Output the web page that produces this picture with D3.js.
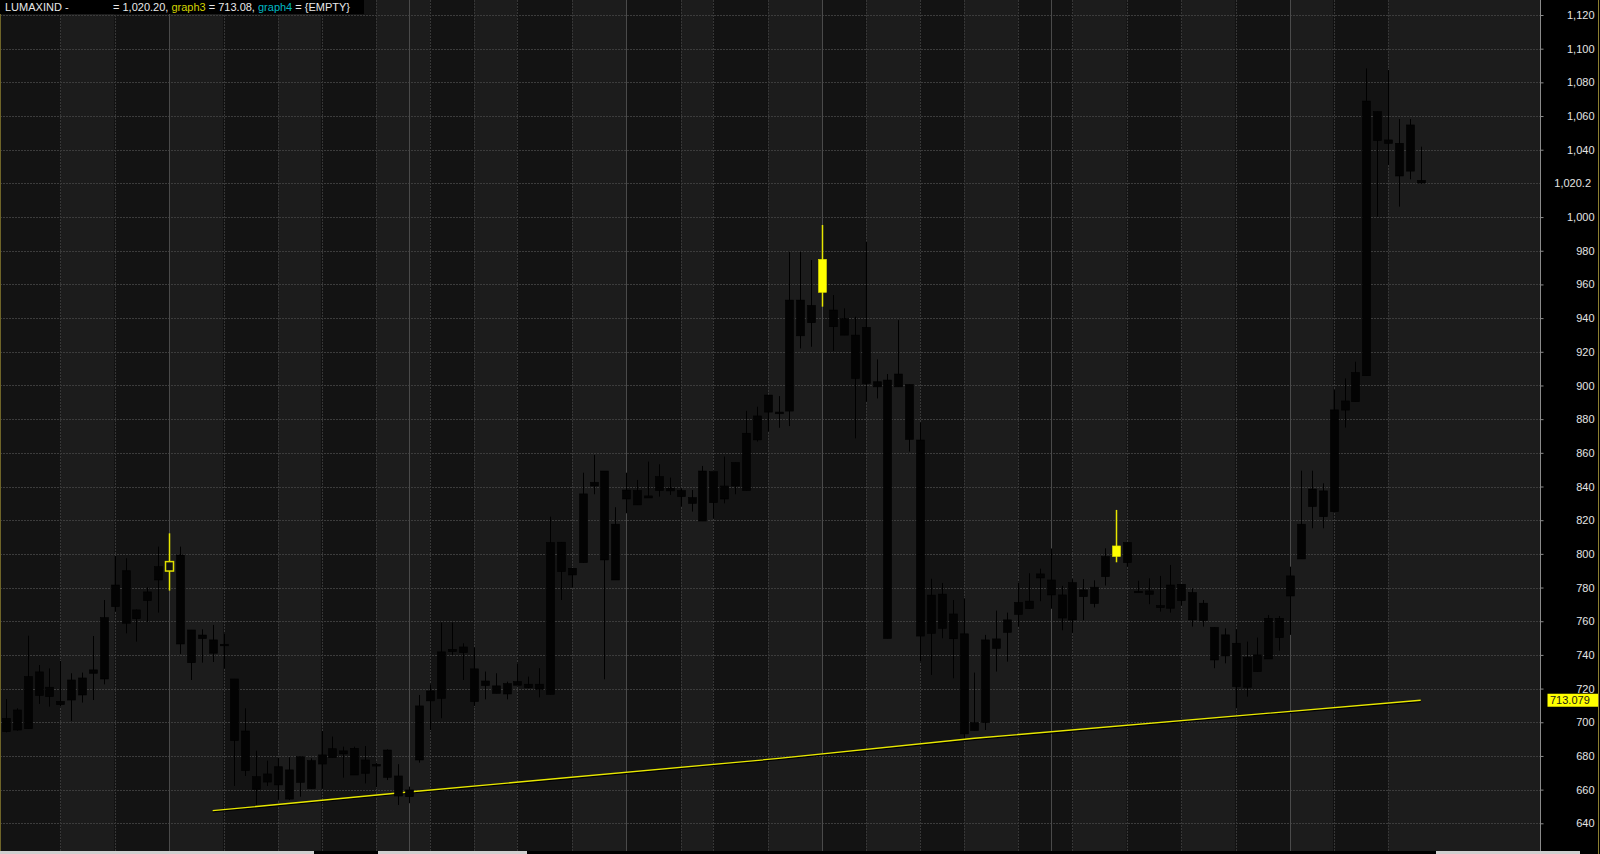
<!DOCTYPE html>
<html><head><meta charset="utf-8">
<script src="https://cdn.jsdelivr.net/npm/d3@7/dist/d3.min.js"></script>
<style>html,body{margin:0;padding:0;background:#000;overflow:hidden}</style>
</head><body>
<svg id="c" width="1600" height="854"></svg>
<script>
// ---------------- data ----------------
const symbol = "LUMAXIND";
const open  = [694.4,695.4,696.2,716.0,720.8,712.4,713.2,716.2,729.1,725.7,768.7,790.0,766.7,772.2,784.5,789.8,799.3,754.8,749.7,748.9,
               745.5,725.7,694.8,667.7,664.5,662.8,671.7,664.3,677.2,675.2,679.0,683.0,684.5,677.6,674.0,667.3,668.1,659.8,677.6,712.7,
               714.2,742.0,744.7,731.7,721.8,721.6,716.8,722.0,722.6,722.6,716.6,806.9,791.4,794.8,840.3,849.2,784.5,832.6,837.6,833.2,
               837.6,839.0,837.6,833.4,819.5,848.8,832.6,840.3,837.6,867.7,884.2,884.2,884.8,950.7,937.3,955.3,944.8,939.8,929.9,901.2,
               902.2,903.2,899.2,900.6,867.6,752.8,776.1,764.3,752.5,695.1,699.8,749.5,753.4,764.1,767.5,785.7,784.5,775.6,760.8,778.6,
               780.2,786.5,798.4,806.7,777.8,778.0,769.3,767.7,781.9,777.0,770.7,756.4,739.4,746.9,738.4,730.1,737.6,761.7,775.0,797.0,
               828.1,837.4,825.1,885.4,890.4,905.8,1062.6,1045.8,1043.8,1027.3,1021.8];
const high  = [713.8,708.3,751.4,734.0,732.0,736.4,729.1,729.5,751.2,772.6,798.7,797.4,767.0,780.1,804.3,812.2,804.3,754.8,755.2,757.8,
               752.8,725.7,708.3,683.1,677.2,679.0,679.2,679.6,678.6,694.8,691.5,685.5,685.5,685.9,676.0,683.9,675.1,661.8,716.2,722.6,
               759.2,759.2,746.9,744.5,730.1,729.1,724.1,735.0,727.1,732.1,822.1,806.9,791.4,848.2,858.7,849.2,827.7,848.2,843.9,854.8,
               853.2,845.3,838.9,837.9,852.2,848.8,857.8,854.2,884.9,887.4,894.3,893.7,979.4,979.4,974.5,995.3,953.7,945.8,940.8,985.4,
               915.5,906.8,938.8,900.6,877.9,785.2,782.7,772.6,773.6,729.5,751.9,766.3,765.1,783.0,788.5,791.2,803.2,781.0,785.0,785.0,
               784.3,803.3,826.1,806.7,784.0,785.5,786.9,793.4,781.9,779.6,772.6,756.4,755.8,755.2,747.9,750.3,763.7,763.1,792.4,849.4,
               849.4,841.9,897.3,904.2,914.1,1088.3,1062.6,1087.3,1058.2,1058.2,1041.8];
const low   = [694.0,695.0,696.2,710.9,709.3,709.3,700.8,711.7,713.2,722.5,765.7,752.8,747.9,759.6,765.1,778.2,740.6,725.1,735.4,735.8,
               732.0,662.2,668.1,650.9,662.2,653.9,653.9,655.8,660.6,660.6,679.0,667.1,668.7,663.7,661.4,665.7,650.9,651.9,676.0,695.4,
               702.4,740.0,725.1,709.7,713.6,717.2,713.6,722.0,720.2,714.8,716.6,772.6,780.0,794.8,835.4,725.5,784.5,824.1,829.1,833.2,
               834.0,835.0,828.1,825.1,819.5,821.1,830.0,835.4,837.6,866.7,872.6,874.9,875.9,922.0,923.0,946.8,920.6,929.9,868.6,890.3,
               892.3,749.8,899.2,860.7,736.0,728.1,749.9,726.1,690.5,695.1,695.4,730.1,736.0,756.8,767.5,771.9,767.4,754.6,752.9,760.6,
               768.2,781.2,795.0,792.4,777.4,770.1,765.7,765.1,769.3,756.8,756.8,732.1,735.0,708.3,715.2,730.1,737.6,742.5,751.9,797.0,
               815.2,815.2,825.1,875.0,890.4,905.8,1000.2,1030.9,1006.2,1022.4,1019.8];
const close = [702.3,707.3,727.1,729.9,715.2,710.5,725.1,726.3,731.1,762.1,781.5,758.8,761.5,777.4,792.4,795.4,746.5,735.4,751.8,741.0,
               746.3,689.1,671.3,660.2,669.3,673.6,654.4,679.6,660.6,680.6,684.3,681.2,668.7,669.7,675.0,683.5,656.2,655.8,709.7,718.6,
               741.8,743.3,741.4,712.3,724.5,717.2,722.9,724.1,720.6,719.6,806.7,789.5,787.5,835.6,842.5,796.4,817.6,837.9,829.1,834.4,
               845.9,837.4,834.0,830.0,849.2,830.4,840.3,854.2,871.6,881.9,894.3,883.2,950.7,929.5,947.5,974.9,934.9,929.9,904.2,934.5,
               899.2,749.8,906.8,868.0,751.2,775.5,755.8,749.6,693.1,699.8,748.9,743.9,760.8,771.1,771.9,788.1,775.6,761.9,782.9,774.6,
               770.5,798.4,804.7,794.8,777.4,776.0,768.1,781.5,772.2,760.8,760.4,737.0,751.9,721.2,720.8,740.0,761.7,750.3,786.9,817.6,
               838.5,822.1,885.5,890.8,907.6,1068.9,1045.4,1043.8,1024.4,1054.7,1020.2];
const barIndex = open.map((_, i) => i);              // trading-day categories (date axis is cut off)
const signalBars   = [15, 75, 102];                  // candles painted yellow
const signalHollow = [15];
const trendBars   = [19, 37, 71, 89, 130];           // graph3 trend line knots
const trendValues = [647.5, 658.6, 678.5, 690.5, 713.079];
const weekStarts  = [5,10,15,20,25,29,34,39,43,47,52,57,62,65,70,75,79,84,88,93,98,103,108,113,118,122,127];
const monthStarts = [15,37,57,75,96,118];
const yTicks = [640,660,680,700,720,740,760,780,800,820,840,860,880,900,920,940,960,980,1000,1020,1040,1060,1080,1100,1120];

// ---------------- chart ----------------
const W = 1600, H = 854, plotR = 1540, plotB = 851;
const FONT = "'Liberation Sans', Arial, sans-serif";
const svg = d3.select("#c");
const x = d3.scaleLinear().domain([0, 130]).range([5.9, 1420.7]);
const y = d3.scaleLinear().domain([640, 1120]).range([823.3, 15]);

svg.append("rect").attr("width", W).attr("height", H).attr("fill", "#000");

// weekly bands
const edges = [0, ...weekStarts.map(i => x(i)), plotR];
svg.append("g").selectAll("rect").data(d3.pairs(edges)).join("rect")
  .attr("x", d => d[0]).attr("y", 0).attr("width", d => d[1] - d[0]).attr("height", plotB)
  .attr("fill", (d, i) => i % 2 === 0 ? "#131313" : "#1c1c1c");

// horizontal grid
svg.append("g").selectAll("line").data(yTicks).join("line")
  .attr("x1", 0).attr("x2", plotR)
  .attr("y1", d => Math.round(y(d)) + 0.5).attr("y2", d => Math.round(y(d)) + 0.5)
  .attr("stroke", "#3c3c3c").attr("stroke-dasharray", "2,1");

// vertical week / month lines
const vlines = Array.from(new Set([...weekStarts, ...monthStarts])).sort((a, b) => a - b);
svg.append("g").selectAll("line").data(vlines).join("line")
  .attr("x1", d => Math.round(x(d)) + 0.5).attr("x2", d => Math.round(x(d)) + 0.5)
  .attr("y1", 0).attr("y2", plotB)
  .attr("stroke", d => monthStarts.includes(d) ? "#4a4a4a" : "#363636")
  .attr("stroke-dasharray", d => monthStarts.includes(d) ? null : "2,1");

// trend line (graph3)
const trend = trendBars.map((b, i) => [b, trendValues[i]]);
const tl = d3.line().x(d => x(d[0])).y(d => y(d[1]));
svg.append("path").attr("d", tl(trend)).attr("fill", "none")
  .attr("stroke", "#000").attr("stroke-width", 1.4).attr("transform", "translate(0,1.2)");
svg.append("path").attr("d", tl(trend)).attr("fill", "none")
  .attr("stroke", "#e8e800").attr("stroke-width", 1.3);

// candles
const cg = svg.append("g");
const candles = cg.selectAll("g").data(barIndex).join("g");
const isSig = i => signalBars.includes(i);
candles.append("line")
  .attr("x1", i => Math.round(x(i)) + 0.5).attr("x2", i => Math.round(x(i)) + 0.5)
  .attr("y1", i => y(high[i])).attr("y2", i => y(low[i]))
  .attr("stroke", i => isSig(i) ? "#e6e600" : "#000").attr("stroke-width", i => isSig(i) ? 1.5 : 1);
candles.append("rect")
  .attr("x", i => Math.round(x(i)) - 3.5)
  .attr("width", 8)
  .attr("y", i => y(Math.max(open[i], close[i])))
  .attr("height", i => Math.max(1.5, Math.abs(y(open[i]) - y(close[i]))))
  .attr("fill", i => signalHollow.includes(i) ? "#101010" : (isSig(i) ? "#ffff00" : "#030303"))
  .attr("stroke", i => isSig(i) ? "#e0e000" : "#000")
  .attr("stroke-width", i => signalHollow.includes(i) ? 1.5 : 0.6);

// right axis
svg.append("rect").attr("x", plotR).attr("y", 0).attr("width", W - plotR).attr("height", H).attr("fill", "#000");
const lastClose = close[close.length - 1];
const axisTicks = yTicks.filter(v => Math.abs(y(v) - y(lastClose)) > 8);
const ax = svg.append("g").attr("transform", `translate(${plotR + 0.5},0)`)
  .call(d3.axisRight(y).tickValues(axisTicks).tickSize(3).tickFormat(d3.format(",")));
ax.select(".domain").attr("stroke", "#8a8a8a").attr("d", `M0,0V${plotB}`);
ax.selectAll(".tick line").attr("stroke", "#8a8a8a");
ax.selectAll(".tick text").attr("x", 54).attr("text-anchor", "end")
  .attr("fill", "#e4e4e4").attr("font-family", FONT).attr("font-size", 11);

// last close label
svg.append("text").attr("x", 1591).attr("y", y(lastClose)).attr("dy", "0.34em")
  .attr("text-anchor", "end").attr("fill", "#e4e4e4").attr("font-family", FONT).attr("font-size", 11)
  .text(d3.format(",.1f")(lastClose));

// trend end label
const tEnd = trendValues[trendValues.length - 1];
svg.append("rect").attr("x", 1547.5).attr("y", y(tEnd) - 6.5).attr("width", 50.5).attr("height", 13)
  .attr("fill", "#ffff00");
svg.append("text").attr("x", 1550).attr("y", y(tEnd)).attr("dy", "0.36em")
  .attr("fill", "#1a1a1a").attr("font-family", FONT).attr("font-size", 11)
  .text(d3.format(".3f")(tEnd));

// borders & cut-off date strip
svg.append("line").attr("x1", 0.5).attr("x2", 0.5).attr("y1", 0).attr("y2", plotB).attr("stroke", "#6e6428");
svg.append("line").attr("x1", 1598.5).attr("x2", 1598.5).attr("y1", 0).attr("y2", H).attr("stroke", "#8c7e30");
const strip = [[0, 314], [378, 527], [1436, 1580]];
svg.append("g").selectAll("rect").data(strip).join("rect")
  .attr("x", d => d[0]).attr("y", plotB).attr("width", d => d[1] - d[0]).attr("height", H - plotB)
  .attr("fill", "#cfcfcf");

// title
svg.append("rect").attr("x", 0).attr("y", 0).attr("width", 364).attr("height", 14).attr("fill", "#000");
svg.append("text").attr("x", 5).attr("y", 11).attr("fill", "#e8e8e8")
  .attr("font-family", FONT).attr("font-size", 11).text(symbol + " -");
const t = svg.append("text").attr("x", 113).attr("y", 11).attr("font-family", FONT).attr("font-size", 11);
t.append("tspan").attr("fill", "#e8e8e8").text("= " + d3.format(",.2f")(lastClose) + ", ");
t.append("tspan").attr("fill", "#d2d200").text("graph3");
t.append("tspan").attr("fill", "#e8e8e8").text(" = " + d3.format(".2f")(tEnd) + ", ");
t.append("tspan").attr("fill", "#00b9c2").text("graph4");
t.append("tspan").attr("fill", "#e8e8e8").text(" = {EMPTY}");
</script>
</body></html>
